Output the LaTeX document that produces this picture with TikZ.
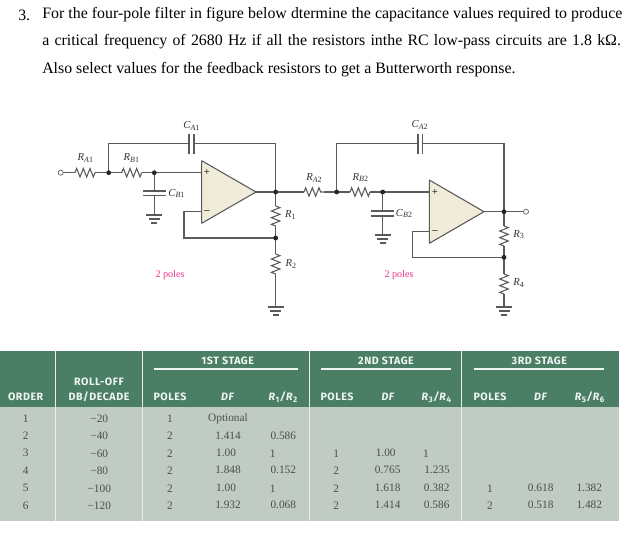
\documentclass[tikz,border=0pt]{standalone}
\usepackage{fontspec}
\setmainfont{Liberation Serif}
\newfontfamily\headfont[LetterSpace=5]{Fira Sans}
\usetikzlibrary{decorations.pathmorphing}
\definecolor{wirecol}{HTML}{5A5A5A}
\definecolor{ampfill}{HTML}{F1EBD9}
\definecolor{polecol}{HTML}{E8338C}
\definecolor{headcol}{HTML}{4A7F66}
\definecolor{bodycol}{HTML}{BFCBC3}
\definecolor{linecol}{HTML}{E9EDEA}
\definecolor{cellcol}{HTML}{4A4F4C}
\newcommand{\partlbl}[2]{\textit{#1}\textsubscript{#2}}
\newcommand{\gnd}[1]{%
  \draw[wirecol,line width=1.5pt] (#1) +(-8,0) -- +(8,0);
  \draw[wirecol,line width=1.4pt] (#1) +(-5.5,4) -- +(5.5,4);
  \draw[wirecol,line width=1.4pt] (#1) +(-3,8) -- +(3,8);
}
\tikzset{
  wire/.style={draw=wirecol,line width=0.8pt},
  zig/.style={wire,decorate,decoration={zigzag,amplitude=3.2pt,segment length=5pt}},
  plate/.style={draw=wirecol,line width=1.2pt},
  dot/.style={circle,fill=black!85,inner sep=0pt,minimum size=3.6pt},
  term/.style={circle,draw=wirecol,fill=white,line width=0.5pt,inner sep=0pt,minimum size=3.8pt},
  amp/.style={draw=wirecol,fill=ampfill,line width=0.8pt,line join=bevel},
  part/.style={text=black!80,font=\fontsize{8}{8}\selectfont,inner sep=0pt},
  poles/.style={text=polecol,font=\fontsize{7.6}{7.6}\selectfont,inner sep=0pt},
  para/.style={anchor=west,inner sep=0pt,font=\fontsize{11.9}{11.9}\selectfont},
  head/.style={text=white!92!headcol,inner sep=0pt,font=\headfont\bfseries\fontsize{8}{8}\selectfont},
  cell/.style={text=cellcol,inner sep=0pt,font=\fontsize{8.5}{8.5}\selectfont},
  rulew/.style={draw=white!92!headcol,line width=1pt},
  divline/.style={draw=linecol,line width=0.9pt}
}
\begin{document}
\begin{tikzpicture}[x=0.75pt,y=-0.75pt]
  \useasboundingbox (0,0) rectangle (625,535);

  % problem text
  \node[para] (num) at (18,15) {3.};
  \node[para] (line1) at (42,15) {\makebox[435pt][s]{For the four-pole filter in figure below dtermine the capacitance values required to produce}};
  \node[para] (line2) at (42,42) {\makebox[434pt][s]{a critical frequency of 2680 Hz if all the resistors inthe RC low-pass circuits are 1.8 kΩ.}};
  \node[para] (line3) at (42,70) {Also select values for the feedback resistors to get a Butterworth response.};

  % first stage points
  \coordinate (in) at (60.7,172.7);
  \coordinate (ra1a) at (75,172.7);
  \coordinate (ra1b) at (95,172.7);
  \coordinate (j1) at (108.7,172.7);
  \coordinate (rb1a) at (121.7,172.7);
  \coordinate (rb1b) at (141.7,172.7);
  \coordinate (j2) at (154.3,172.7);
  \coordinate (ap1) at (201.7,172.7);
  \coordinate (am1) at (201.7,211.7);
  \coordinate (amtop1) at (201.7,160.7);
  \coordinate (ambot1) at (201.7,223.3);
  \coordinate (out1) at (256,192);
  \coordinate (j3) at (275.7,192);
  \coordinate (ca1l) at (189,143.7);
  \coordinate (ca1r) at (194,143.7);
  \coordinate (top1l) at (108.7,143.7);
  \coordinate (top1r) at (275.7,143.7);
  \coordinate (cb1t) at (154.3,190.7);
  \coordinate (cb1b) at (154.3,195.3);
  \coordinate (g1) at (154.3,215);
  \coordinate (r1a) at (275.7,206);
  \coordinate (r1b) at (275.7,226);
  \coordinate (j4) at (275.7,238);
  \coordinate (fb1a) at (184,211.7);
  \coordinate (fb1b) at (184,238);
  \coordinate (r2a) at (275.7,254);
  \coordinate (r2b) at (275.7,274);
  \coordinate (g2) at (275.7,306.7);

  % second stage points
  \coordinate (ra2a) at (304,192);
  \coordinate (ra2b) at (323.5,192);
  \coordinate (j5) at (336.7,192);
  \coordinate (rb2a) at (350,192);
  \coordinate (rb2b) at (370,192);
  \coordinate (j6) at (382.7,192);
  \coordinate (ap2) at (429.3,192);
  \coordinate (am2) at (429.3,231.7);
  \coordinate (amtop2) at (429.3,180);
  \coordinate (ambot2) at (429.3,243.3);
  \coordinate (out2) at (484,211.7);
  \coordinate (j7) at (504,211.7);
  \coordinate (vo) at (526,211.7);
  \coordinate (ca2l) at (417.7,143.7);
  \coordinate (ca2r) at (422.3,143.7);
  \coordinate (top2l) at (336.7,143.7);
  \coordinate (top2r) at (504,143.7);
  \coordinate (cb2t) at (382.7,211);
  \coordinate (cb2b) at (382.7,215.7);
  \coordinate (g3) at (382.7,235);
  \coordinate (r3a) at (504,226);
  \coordinate (r3b) at (504,246);
  \coordinate (j8) at (504,257.3);
  \coordinate (fb2a) at (412.7,231.7);
  \coordinate (fb2b) at (412.7,257.3);
  \coordinate (r4a) at (504,274);
  \coordinate (r4b) at (504,294);
  \coordinate (g4) at (504,306.7);

  % first stage
  \draw[wire] (in) -- (ra1a);
  \draw[zig] (ra1a) -- (ra1b);
  \draw[wire] (ra1b) -- (j1) -- (rb1a);
  \draw[zig] (rb1a) -- (rb1b);
  \draw[wire] (rb1b) -- (j2) -- (ap1);
  \draw[wire] (j1) -- (top1l) -- (ca1l);
  \draw[wire] (ca1r) -- (top1r) -- (j3);
  \draw[plate] (ca1l) +(0,-10) -- +(0,10);
  \draw[plate] (ca1r) +(0,-10) -- +(0,10);
  \draw[wire] (j2) -- (cb1t);
  \draw[wire] (cb1b) -- (g1);
  \draw[plate] (cb1t) +(-11.5,0) -- +(11.5,0);
  \draw[plate] (cb1b) +(-11.5,0) -- +(11.5,0);
  \gnd{g1}
  \draw[wire] (am1) -- (fb1a) -- (fb1b) -- (j4);
  \draw[wire] (out1) -- (j3) -- (r1a);
  \draw[zig] (r1a) -- (r1b);
  \draw[wire] (r1b) -- (j4) -- (r2a);
  \draw[zig] (r2a) -- (r2b);
  \draw[wire] (r2b) -- (g2);
  \gnd{g2}
  \draw[amp] (amtop1) -- (out1) -- (ambot1) -- cycle;
  \draw[wire] (j3) -- (ra2a);

  % second stage
  \draw[zig] (ra2a) -- (ra2b);
  \draw[wire] (ra2b) -- (j5) -- (rb2a);
  \draw[zig] (rb2a) -- (rb2b);
  \draw[wire] (rb2b) -- (j6) -- (ap2);
  \draw[wire] (j5) -- (top2l) -- (ca2l);
  \draw[wire] (ca2r) -- (top2r) -- (j7);
  \draw[plate] (ca2l) +(0,-10) -- +(0,10);
  \draw[plate] (ca2r) +(0,-10) -- +(0,10);
  \draw[wire] (j6) -- (cb2t);
  \draw[wire] (cb2b) -- (g3);
  \draw[plate] (cb2t) +(-11.5,0) -- +(11.5,0);
  \draw[plate] (cb2b) +(-11.5,0) -- +(11.5,0);
  \gnd{g3}
  \draw[wire] (am2) -- (fb2a) -- (fb2b) -- (j8);
  \draw[wire] (out2) -- (j7) -- (vo);
  \draw[wire] (j7) -- (r3a);
  \draw[zig] (r3a) -- (r3b);
  \draw[wire] (r3b) -- (j8) -- (r4a);
  \draw[zig] (r4a) -- (r4b);
  \draw[wire] (r4b) -- (g4);
  \gnd{g4}
  \draw[amp] (amtop2) -- (out2) -- (ambot2) -- cycle;

  % dots and terminals
  \node[term] (inT) at (in) {};
  \node[term] (voT) at (vo) {};
  \node[dot] (d1) at (j1) {};
  \node[dot] (d2) at (j2) {};
  \node[dot] (d3) at (j3) {};
  \node[dot] (d4) at (j4) {};
  \node[dot] (d5) at (j5) {};
  \node[dot] (d6) at (j6) {};
  \node[dot] (d7) at (j7) {};
  \node[dot] (d8) at (j8) {};

  % circuit labels
  \node[part] (lRA1) at (85.7,158) {\partlbl{R}{\textit{A}1}};
  \node[part] (lRB1) at (131.7,158) {\partlbl{R}{\textit{B}1}};
  \node[part] (lCA1) at (191.7,125.7) {\partlbl{C}{\textit{A}1}};
  \node[part] (lCB1) at (176.7,193.3) {\partlbl{C}{\textit{B}1}};
  \node[part] (lR1) at (290.7,215.3) {\partlbl{R}{1}};
  \node[part] (lR2) at (291.3,264) {\partlbl{R}{2}};
  \node[part] (lRA2) at (314.3,177.7) {\partlbl{R}{\textit{A}2}};
  \node[part] (lRB2) at (360.7,177.7) {\partlbl{R}{\textit{B}2}};
  \node[part] (lCA2) at (420,125) {\partlbl{C}{\textit{A}2}};
  \node[part] (lCB2) at (404.3,213.3) {\partlbl{C}{\textit{B}2}};
  \node[part] (lR3) at (519,234.7) {\partlbl{R}{3}};
  \node[part] (lR4) at (519,283.3) {\partlbl{R}{4}};
  \node[part] (plus1) at (207,172.7) {\textbf{+}};
  \node[part] (minus1) at (207,211.7) {\textbf{\textendash}};
  \node[part] (plus2) at (435,192) {\textbf{+}};
  \node[part] (minus2) at (435,231.7) {\textbf{\textendash}};
  \node[poles] (poles1) at (170,274.7) {2 poles};
  \node[poles] (poles2) at (399,274.7) {2 poles};

  % table
  \fill[headcol] (0,351) rectangle (619.3,406.7);
  \fill[bodycol] (0,406.7) rectangle (619.3,521);
  \draw[divline] (55.7,351) -- (55.7,521);
  \draw[divline] (142.7,351) -- (142.7,521);
  \draw[divline] (309.3,351) -- (309.3,521);
  \draw[divline] (461.7,351) -- (461.7,521);
  \draw[rulew] (153.7,369) -- (297.7,369);
  \draw[rulew] (320.7,369) -- (451,369);
  \draw[rulew] (474,369) -- (604.3,369);

  \node[head] (hStage1) at (227.7,361) {1ST STAGE};
  \node[head] (hStage2) at (386,361) {2ND STAGE};
  \node[head] (hStage3) at (539.3,361) {3RD STAGE};
  \node[head] (hRoll) at (99,382.3) {ROLL-OFF};
  \node[head] (hOrder) at (25.7,397) {ORDER};
  \node[head] (hDb) at (99,397) {DB/DECADE};
  \node[head] (hPoles1) at (170,397) {POLES};
  \node[head] (hDf1) at (228,397) {\textit{DF}};
  \node[head] (hR1) at (283.3,397) {\textit{R}\textsubscript{1}\textit{/R}\textsubscript{2}};
  \node[head] (hPoles2) at (337,397) {POLES};
  \node[head] (hDf2) at (388.3,397) {\textit{DF}};
  \node[head] (hR2) at (436.7,397) {\textit{R}\textsubscript{3}\textit{/R}\textsubscript{4}};
  \node[head] (hPoles3) at (490,397) {POLES};
  \node[head] (hDf3) at (541,397) {\textit{DF}};
  \node[head] (hR3) at (590,397) {\textit{R}\textsubscript{5}\textit{/R}\textsubscript{6}};

  \node[cell] (o1) at (25.7,418.3) {1};
  \node[cell] (o2) at (25.7,436) {2};
  \node[cell] (o3) at (25.7,453.3) {3};
  \node[cell] (o4) at (25.7,470.3) {4};
  \node[cell] (o5) at (25.7,488.3) {5};
  \node[cell] (o6) at (25.7,505.3) {6};
  \node[cell] (ro1) at (99.3,418.3) {−20};
  \node[cell] (ro2) at (99.3,436) {−40};
  \node[cell] (ro3) at (99.3,453.3) {−60};
  \node[cell] (ro4) at (99.3,470.3) {−80};
  \node[cell] (ro5) at (99.3,488.3) {−100};
  \node[cell] (ro6) at (99.3,505.3) {−120};

  \node[cell] (pa1) at (170,418.3) {1};
  \node[cell] (pa2) at (170,436) {2};
  \node[cell] (pa3) at (170,453.3) {2};
  \node[cell] (pa4) at (170,470.3) {2};
  \node[cell] (pa5) at (170,488.3) {2};
  \node[cell] (pa6) at (170,505.3) {2};
  \node[cell] (da1) at (228,418.3) {Optional};
  \node[cell] (da2) at (228,436) {1.414};
  \node[cell] (da3) at (226,453.3) {1.00};
  \node[cell] (da4) at (228,470.3) {1.848};
  \node[cell] (da5) at (226,488.3) {1.00};
  \node[cell] (da6) at (228,505.3) {1.932};
  \node[cell] (ra2) at (283.3,436) {0.586};
  \node[cell] (ra3) at (272.7,453.3) {1};
  \node[cell] (ra4) at (283.3,470.3) {0.152};
  \node[cell] (ra5) at (272.7,488.3) {1};
  \node[cell] (ra6) at (283.3,505.3) {0.068};

  \node[cell] (pb3) at (336.3,453.3) {1};
  \node[cell] (pb4) at (336.3,470.3) {2};
  \node[cell] (pb5) at (336.3,488.3) {2};
  \node[cell] (pb6) at (336.3,505.3) {2};
  \node[cell] (db3) at (385.7,453.3) {1.00};
  \node[cell] (db4) at (387.7,470.3) {0.765};
  \node[cell] (db5) at (387.7,488.3) {1.618};
  \node[cell] (db6) at (387.7,505.3) {1.414};
  \node[cell] (rb3) at (426,453.3) {1};
  \node[cell] (rb4) at (437,470.3) {1.235};
  \node[cell] (rb5) at (436.7,488.3) {0.382};
  \node[cell] (rb6) at (436.7,505.3) {0.586};

  \node[cell] (pc5) at (490,488.3) {1};
  \node[cell] (pc6) at (490,505.3) {2};
  \node[cell] (dc5) at (540.7,488.3) {0.618};
  \node[cell] (dc6) at (540.7,505.3) {0.518};
  \node[cell] (rc5) at (589.3,488.3) {1.382};
  \node[cell] (rc6) at (589.3,505.3) {1.482};
\end{tikzpicture}
\end{document}
